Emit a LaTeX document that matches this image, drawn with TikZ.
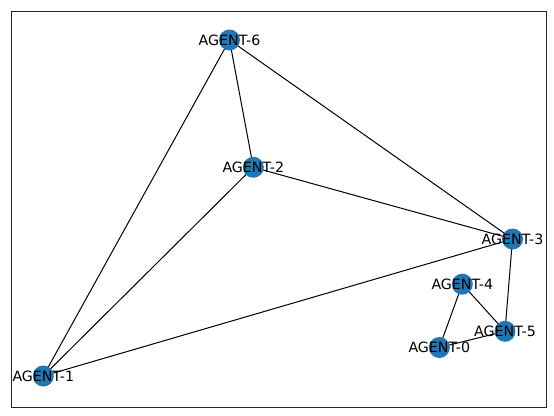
\documentclass[tikz,border=0pt]{standalone}
\usepackage{fontspec}
\setmainfont{DejaVu Sans}
\usetikzlibrary{backgrounds}
\definecolor{nodeblue}{HTML}{1F77B4}
\definecolor{framegray}{HTML}{262626}
\begin{document}
\begin{tikzpicture}[x=1pt,y=-1pt,
  agent/.style={circle,fill=nodeblue,draw=none,minimum size=21pt,inner sep=0pt},
  agentlabel/.style={inner sep=0pt,font=\fontsize{14.2pt}{16pt}\selectfont,text=black},
  edge/.style={draw=black,line width=1pt}]
\useasboundingbox (0,0) rectangle (554,415);
\draw[framegray,line width=1pt] (11,11) rectangle (546,407);
\node[agent] (a6) at (229.5,40) {};
\node[agent] (a2) at (253.3,167.3) {};
\node[agent] (a3) at (512.5,239) {};
\node[agent] (a4) at (462.3,284.2) {};
\node[agent] (a5) at (505,331.3) {};
\node[agent] (a0) at (439.3,347.5) {};
\node[agent] (a1) at (43.3,376) {};
\begin{scope}[on background layer]
\draw[edge] (a6.center) -- (a1.center);
\draw[edge] (a6.center) -- (a2.center);
\draw[edge] (a6.center) -- (a3.center);
\draw[edge] (a2.center) -- (a1.center);
\draw[edge] (a2.center) -- (a3.center);
\draw[edge] (a3.center) -- (a1.center);
\draw[edge] (a3.center) -- (a5.center);
\draw[edge] (a4.center) -- (a5.center);
\draw[edge] (a4.center) -- (a0.center);
\draw[edge] (a0.center) -- (a5.center);
\end{scope}
\node[agentlabel] (l6) at (a6) {AGENT-6};
\node[agentlabel] (l2) at (a2) {AGENT-2};
\node[agentlabel] (l3) at (a3) {AGENT-3};
\node[agentlabel] (l4) at (a4) {AGENT-4};
\node[agentlabel] (l5) at (a5) {AGENT-5};
\node[agentlabel] (l0) at (a0) {AGENT-0};
\node[agentlabel] (l1) at (a1) {AGENT-1};
\end{tikzpicture}
\end{document}
